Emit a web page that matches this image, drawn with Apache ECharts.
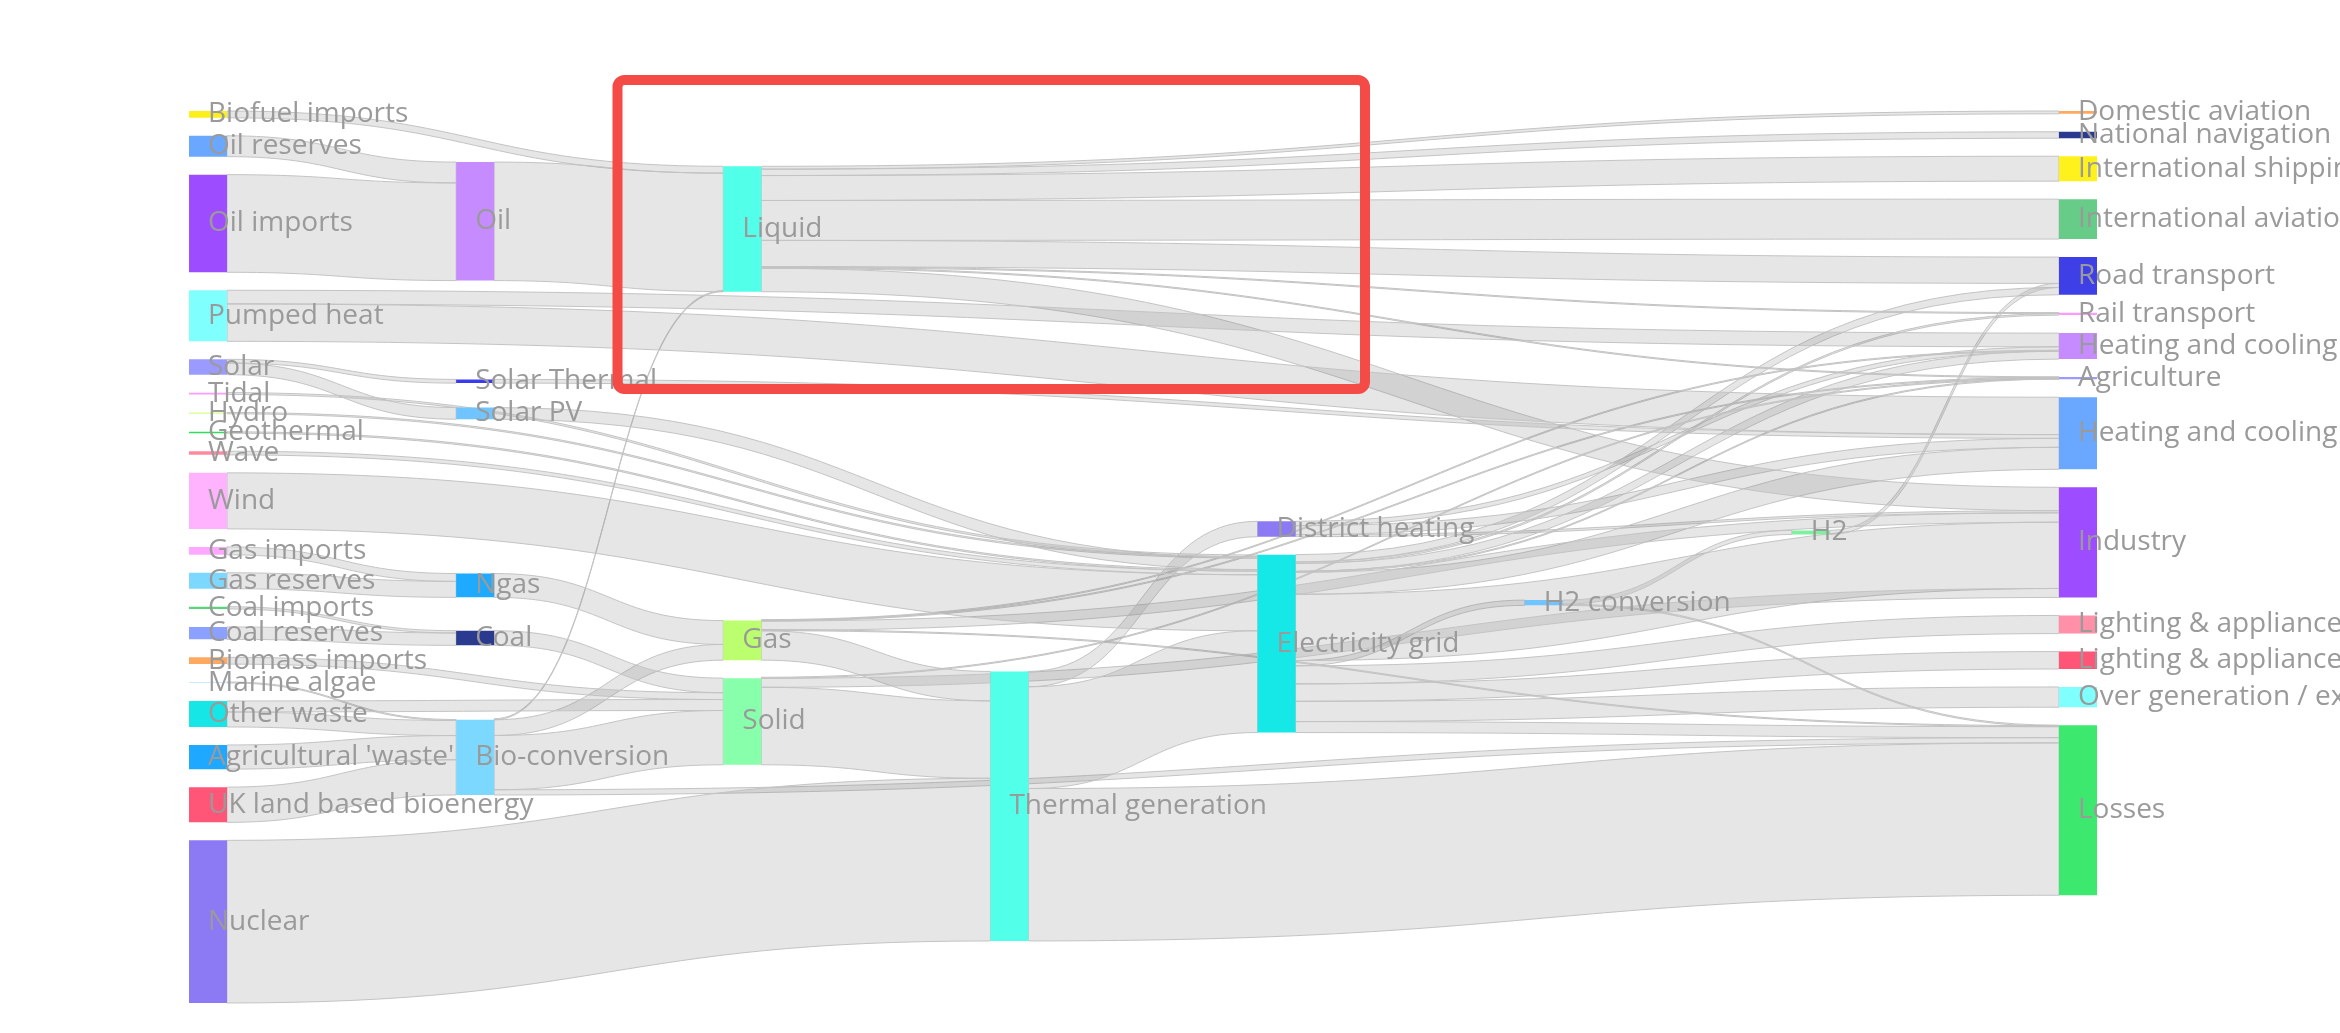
<!DOCTYPE html>
<html>
<head>
<meta charset="utf-8">
<script src="https://cdn.jsdelivr.net/npm/echarts@6/dist/echarts.min.js"></script>
<style>
html,body{margin:0;padding:0;background:#fff;}
#main{width:2340px;height:1033px;}
</style>
</head>
<body>
<div id="main"></div>
<script>
// Node names (energy flows, UK 2050)
const nodeNames = [
  "Agricultural 'waste'", "Bio-conversion", "Liquid", "Losses", "Solid", "Gas",
  "Biofuel imports", "Biomass imports", "Coal imports", "Coal", "Coal reserves",
  "District heating", "Industry", "Heating and cooling - commercial",
  "Heating and cooling - homes", "Electricity grid", "Over generation / exports",
  "H2 conversion", "Road transport", "Agriculture", "Rail transport",
  "Lighting & appliances - commercial", "Lighting & appliances - homes",
  "Gas imports", "Ngas", "Gas reserves", "Thermal generation", "Geothermal",
  "H2", "Hydro", "International shipping", "Domestic aviation",
  "International aviation", "National navigation", "Marine algae", "Nuclear",
  "Oil imports", "Oil", "Oil reserves", "Other waste", "Pumped heat",
  "Solar PV", "Solar Thermal", "Solar", "Tidal", "UK land based bioenergy",
  "Wave", "Wind"
];
const nodeColors = [
  "#1ea8ff", "#7dd8ff", "#52ffe8", "#3de86e", "#88ffaa", "#bbff6e",
  "#fbef1c", "#ffa860", "#5ad47a", "#2a3b8f", "#8ca0ff",
  "#8c7af5", "#9d4dff", "#c68cff",
  "#6aa8ff", "#16e8e8", "#80ffff",
  "#70c4ff", "#3f3fe8", "#9b9bff", "#ff9bff",
  "#ff5577", "#ff90a8",
  "#ffa8ff", "#1eaaff", "#7dd8ff", "#52ffe8", "#2ee05a",
  "#80f0a0", "#d4ff8a", "#fff21c", "#ffa860",
  "#66cc88", "#2a3b8f", "#d0e8ff", "#8c7af5",
  "#9d4dff", "#c68cff", "#6aa8ff", "#17e6e6", "#80ffff",
  "#70c4ff", "#3a3aee", "#9b9bff", "#ff9bff", "#ff5577",
  "#ff8aa0", "#ffb3ff"
];
// Links: source, target, value
const linkSources = [
  "Agricultural 'waste'", "Bio-conversion", "Bio-conversion", "Bio-conversion", "Bio-conversion",
  "Biofuel imports", "Biomass imports", "Coal imports", "Coal reserves", "Coal",
  "District heating", "District heating", "District heating",
  "Electricity grid", "Electricity grid", "Electricity grid", "Electricity grid", "Electricity grid",
  "Electricity grid", "Electricity grid", "Electricity grid", "Electricity grid", "Electricity grid",
  "Electricity grid",
  "Gas imports", "Gas reserves",
  "Gas", "Gas", "Gas", "Gas", "Gas",
  "Geothermal", "H2 conversion", "H2 conversion", "H2", "Hydro",
  "Liquid", "Liquid", "Liquid", "Liquid", "Liquid", "Liquid", "Liquid", "Liquid",
  "Marine algae", "Ngas", "Nuclear", "Oil imports", "Oil reserves", "Oil",
  "Other waste", "Other waste", "Pumped heat", "Pumped heat",
  "Solar PV", "Solar Thermal", "Solar", "Solar",
  "Solid", "Solid", "Solid",
  "Thermal generation", "Thermal generation", "Thermal generation",
  "Tidal", "UK land based bioenergy", "Wave", "Wind"
];
const linkTargets = [
  "Bio-conversion", "Liquid", "Losses", "Solid", "Gas",
  "Liquid", "Solid", "Coal", "Coal", "Solid",
  "Industry", "Heating and cooling - commercial", "Heating and cooling - homes",
  "Over generation / exports", "Heating and cooling - homes", "H2 conversion", "Industry", "Road transport",
  "Agriculture", "Heating and cooling - commercial", "Losses", "Rail transport", "Lighting & appliances - commercial",
  "Lighting & appliances - homes",
  "Ngas", "Ngas",
  "Heating and cooling - commercial", "Losses", "Thermal generation", "Agriculture", "Industry",
  "Electricity grid", "H2", "Losses", "Road transport", "Electricity grid",
  "Industry", "International shipping", "Road transport", "Domestic aviation", "International aviation", "Agriculture", "National navigation", "Rail transport",
  "Bio-conversion", "Gas", "Thermal generation", "Oil", "Oil", "Liquid",
  "Solid", "Bio-conversion", "Heating and cooling - homes", "Heating and cooling - commercial",
  "Electricity grid", "Heating and cooling - homes", "Solar Thermal", "Solar PV",
  "Agriculture", "Thermal generation", "Industry",
  "Electricity grid", "Losses", "District heating",
  "Electricity grid", "Bio-conversion", "Electricity grid", "Electricity grid"
];
const linkValues = [
  124.729, 0.597, 26.862, 280.322, 81.144,
  35, 35, 11.606, 63.965, 75.571,
  10.639, 22.505, 46.184,
  104.453, 113.726, 27.14, 342.165, 37.797,
  4.412, 40.858, 56.691, 7.863, 90.008,
  93.494,
  40.719, 82.233,
  0.129, 1.401, 151.891, 2.096, 48.58,
  7.013, 20.897, 6.242, 20.897, 6.995,
  121.066, 128.69, 135.835, 14.458, 206.267, 3.64, 33.218, 4.413,
  4.375, 122.952, 839.978, 504.287, 107.703, 611.99,
  56.587, 77.81, 193.026, 70.672,
  59.901, 19.263, 19.263, 59.901,
  0.882, 400.12, 46.477,
  525.531, 787.129, 79.329,
  9.452, 182.01, 19.013, 289.366
];

const nodes = nodeNames.map((n, i) => ({ name: n, itemStyle: { color: nodeColors[i] } }));
const links = linkValues.map((v, i) => ({ source: linkSources[i], target: linkTargets[i], value: v }));

const H = 1033;
const chart = echarts.init(document.getElementById('main'), null, { renderer: 'canvas' });
chart.setOption({
  backgroundColor: '#ffffff',
  animation: false,
  series: [{
    type: 'sankey',
    left: 189,
    right: 243,
    top: 30,
    bottom: 111,
    nodeWidth: 38,
    nodeGap: 18,
    data: nodes,
    links: links,
    itemStyle: { borderWidth: 0 },
    label: {
      position: ['50%', '50%'],
      align: 'left',
      verticalAlign: 'middle',
      color: '#9a9a9a',
      fontSize: 28,
      fontFamily: 'Open Sans'
    },
    lineStyle: {
      color: 'rgba(128,128,128,0.2)',
      opacity: 1,
      borderColor: '#c4c4c4',
      borderWidth: 1,
      curveness: 0.5
    }
  }],
  graphic: [{
    type: 'rect',
    z: 100,
    shape: { x: 617.5, y: 80, width: 747.5, height: 309, r: 7 },
    style: { fill: 'transparent', stroke: '#f44b47', lineWidth: 10 }
  }]
});

// The reference stacks the sankey's rows top-to-bottom in the opposite
// direction; mirror the library-computed sankey group vertically
// (labels stay upright because they are laid out in global space).
(function mirrorSankey() {
  const seriesModel = chart.getModel().getSeriesByIndex(0);
  let view = null;
  try { view = chart.getViewOfSeriesModel(seriesModel); } catch (e) {}
  if (!view && chart._chartsViews) view = chart._chartsViews[0];
  if (!view) return;
  const g = view.group;
  g.y = H - (g.y || 0);
  g.scaleY = -1;
  g.traverse(function (el) { if (el.markRedraw) el.markRedraw(); });
  g.markRedraw();
  chart.getZr().refresh();
})();
</script>
</body>
</html>
